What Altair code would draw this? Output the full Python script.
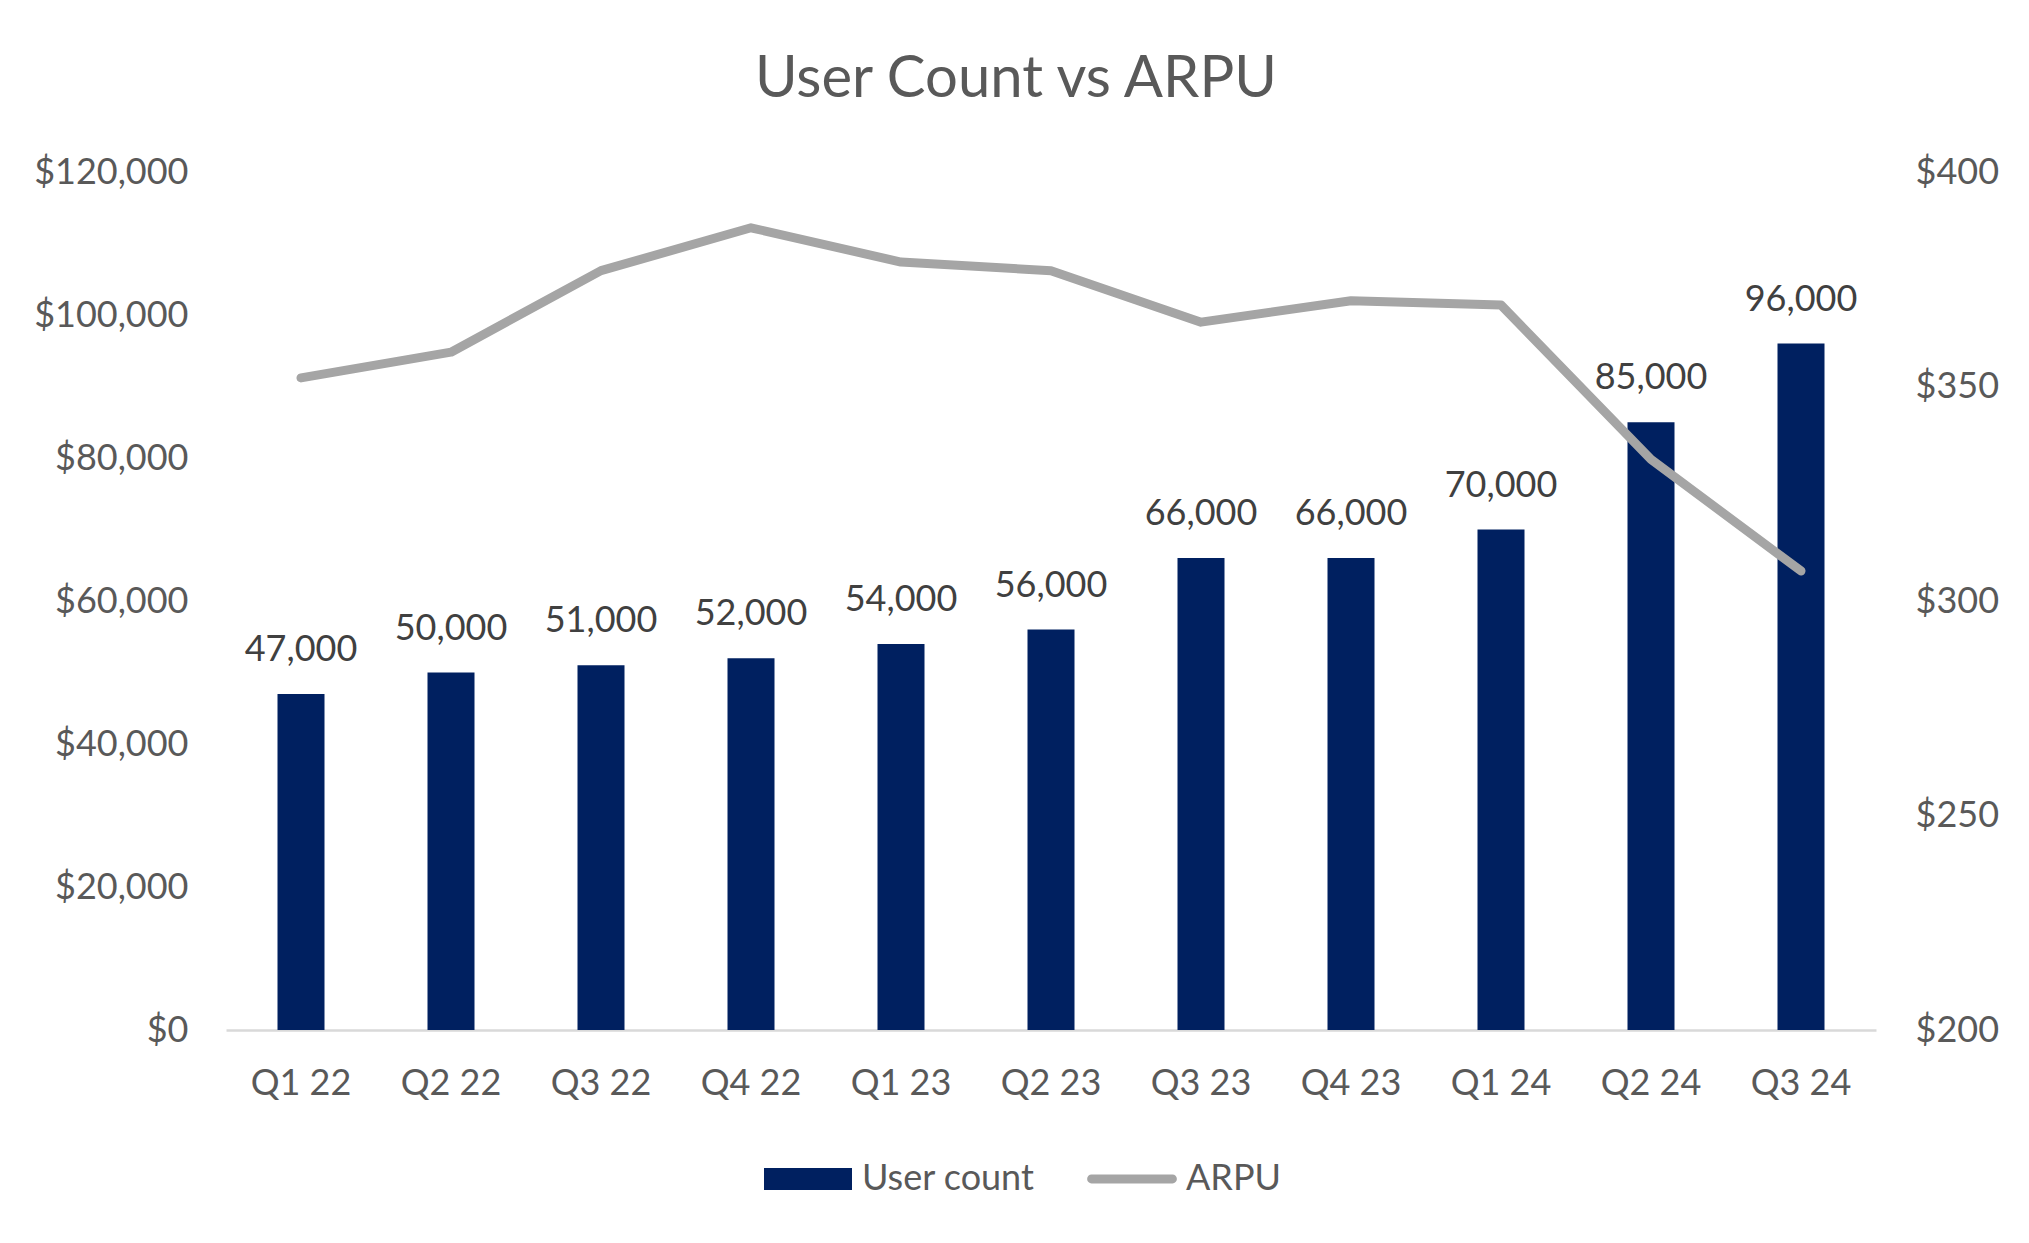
import altair as alt
import pandas as pd

quarters = ["Q1 22", "Q2 22", "Q3 22", "Q4 22", "Q1 23", "Q2 23",
            "Q3 23", "Q4 23", "Q1 24", "Q2 24", "Q3 24"]
user_count = [47000, 50000, 51000, 52000, 54000, 56000,
              66000, 66000, 70000, 85000, 96000]
arpu = [352, 358, 377, 387, 379, 377, 365, 370, 369, 333, 307]
series_names = ["User count", "ARPU"]

df = pd.DataFrame({
    "quarter": quarters,
    "users": user_count,
    "arpu": arpu,
    "series": [series_names[0]] * len(quarters),
})

FONT = "Lato"
TXT = "#595959"
NAVY = "#002060"
GRAY = "#A5A5A5"

x_enc = alt.X("quarter:N", sort=quarters,
              scale=alt.Scale(paddingInner=0, paddingOuter=0),
              axis=alt.Axis(title=None, labelAngle=0, ticks=False, tickSize=0,
                            domainColor="#D9D9D9", domainWidth=2.5,
                            labelPadding=36, labelFontSize=36,
                            labelColor=TXT, labelFont=FONT, grid=False))

rect_path = "M-1,-0.25L1,-0.25L1,0.25L-1,0.25Z"
line_path = ("M-0.92,-0.1L0.92,-0.1A0.1,0.1 0 0 1 0.92,0.1"
             "L-0.92,0.1A0.1,0.1 0 0 1 -0.92,-0.1Z")

bars = alt.Chart(df).mark_bar(size=47).encode(
    x=x_enc,
    y=alt.Y("users:Q",
            scale=alt.Scale(domain=[0, 120000], nice=False),
            axis=alt.Axis(title=None, values=[0, 20000, 40000, 60000, 80000, 100000, 120000],
                          format="$,.0f", domain=False, ticks=False, grid=False,
                          labelPadding=38, labelFontSize=36, labelColor=TXT,
                          labelFont=FONT)),
    color=alt.Color("series:N",
                    scale=alt.Scale(domain=series_names, range=[NAVY, GRAY]),
                    legend=alt.Legend(
                        title=None, orient="none", direction="horizontal",
                        legendX=538, legendY=963,
                        symbolType={"expr": f"datum.value === 'ARPU' ? '{line_path}' : '{rect_path}'"},
                        symbolSize=7744, symbolStrokeWidth=0,
                        labelFontSize=36, labelFont=FONT, labelColor=TXT,
                        labelLimit=500, labelOffset=10, columnPadding=52)),
)

labels = alt.Chart(df).mark_text(
    dy=-44, baseline="middle", fontSize=36, font=FONT, color="#404040"
).encode(
    x=alt.X("quarter:N", sort=quarters),
    y=alt.Y("users:Q"),
    text=alt.Text("users:Q", format=",.0f"),
)

line = alt.Chart(df).mark_line(
    color=GRAY, strokeWidth=9, strokeCap="round", strokeJoin="round"
).encode(
    x=alt.X("quarter:N", sort=quarters),
    y=alt.Y("arpu:Q",
            scale=alt.Scale(domain=[200, 400], nice=False),
            axis=alt.Axis(title=None, orient="right", values=[200, 250, 300, 350, 400],
                          format="$.0f", domain=False, ticks=False, grid=False,
                          labelPadding=39, labelFontSize=36, labelColor=TXT,
                          labelFont=FONT)),
)

chart = alt.layer(alt.layer(bars, labels), line).resolve_scale(
    y="independent"
).properties(
    width=1650,
    height=858,
    padding={"left": 218, "top": 164, "right": 145, "bottom": 205},
    autosize=alt.AutoSizeParams(type="none"),
    background="white",
    title=alt.TitleParams("User Count vs ARPU", fontSize=58, font=FONT,
                          fontWeight="normal", color=TXT, anchor="middle",
                          baseline="middle", offset=16, dx=-35),
).configure_view(stroke=None)

chart.save("out.html", embed_options={"renderer": "svg", "actions": False})
